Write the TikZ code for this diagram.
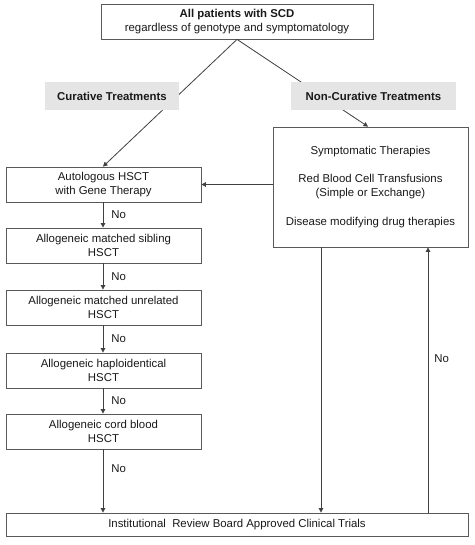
\documentclass[tikz,border=0pt]{standalone}
\usepackage{fontspec}
\setmainfont{Liberation Sans}
\usetikzlibrary{arrows.meta}
\begin{document}
\begin{tikzpicture}[x=1pt,y=-1pt,
  every node/.style={font=\fontsize{11.4}{14}\selectfont, text=black!90, align=center, inner sep=0pt},
  box/.style={draw=black!65, line width=0.8pt, fill=white},
  graybox/.style={fill=black!10},
  conn/.style={draw=black!75, line width=0.8pt},
  arr/.style={conn, -{Triangle[width=4.5pt,length=4.5pt]}},
  nolabel/.style={right, xshift=8pt}]
\useasboundingbox (0,0) rectangle (474,545);
\node[box, minimum width=272pt, minimum height=35pt] (top) at (237,21.5) {\textbf{All patients with SCD}\\regardless of genotype and symptomatology};
\node[box, minimum width=195pt, minimum height=120pt] (rbox) at (370.5,187) {Symptomatic Therapies\\[13.5pt]Red Blood Cell Transfusions\\(Simple or Exchange)\\[15pt]Disease modifying drug therapies};
\node[box, minimum width=195pt, minimum height=35pt] (b1) at (103.5,184.5) {Autologous HSCT\\with Gene Therapy};
\node[box, minimum width=195pt, minimum height=35pt] (b2) at (103.5,245.5) {Allogeneic matched sibling\\HSCT};
\node[box, minimum width=195pt, minimum height=35pt] (b3) at (103.5,307.5) {Allogeneic matched unrelated\\HSCT};
\node[box, minimum width=195pt, minimum height=35pt] (b4) at (103.5,370.5) {Allogeneic haploidentical\\HSCT};
\node[box, minimum width=195pt, minimum height=35pt] (b5) at (103.5,431.5) {Allogeneic cord blood\\HSCT};
\node[box, minimum width=462pt, minimum height=23pt] (bottom) at (237,524.5) {Institutional\ \ Review Board Approved Clinical Trials};
\coordinate (rin) at (368,0);
\coordinate (lin) at (103,0);
\coordinate (dn) at (321,0);
\coordinate (up) at (428,0);
\draw[arr] (top.south) -- (rbox.north -| rin);
\draw[arr] (top.south) -- (b1.north -| lin);
\node[graybox, minimum width=134pt, minimum height=28pt] (cur) at (112,96) {\textbf{Curative Treatments}};
\node[graybox, minimum width=165pt, minimum height=28pt] (ncur) at (373.5,96) {\textbf{Non-Curative Treatments}};
\draw[arr] (b1.east -| rbox.west) -- (b1.east);
\draw[arr] (b1.south -| lin) -- node[nolabel]{No} (b2.north -| lin);
\draw[arr] (b2.south -| lin) -- node[nolabel]{No} (b3.north -| lin);
\draw[arr] (b3.south -| lin) -- node[nolabel]{No} (b4.north -| lin);
\draw[arr] (b4.south -| lin) -- node[nolabel]{No} (b5.north -| lin);
\draw[arr] (b5.south -| lin) -- node[nolabel, pos=0.3]{No} (bottom.north -| lin);
\draw[arr] (rbox.south -| dn) -- (bottom.north -| dn);
\draw[arr] (bottom.north -| up) -- node[nolabel, xshift=-2pt, pos=0.58]{No} (rbox.south -| up);
\end{tikzpicture}
\end{document}
